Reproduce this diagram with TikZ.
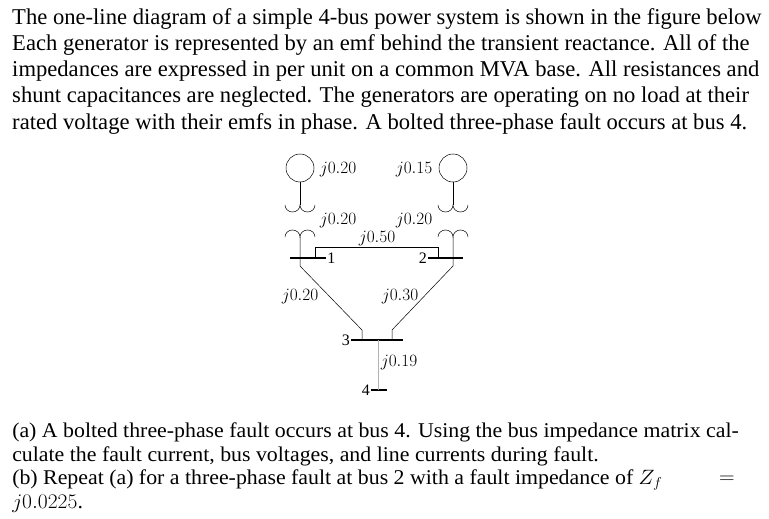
\documentclass[tikz,border=0pt]{standalone}
\usepackage{fontspec}
\setmainfont{Liberation Serif}
\usepackage{amsmath}
\begin{document}
\begin{tikzpicture}[x=1pt, y=-1pt, line width = 0.5pt,
                    txt/.style = {anchor = west, inner sep = 0pt, font = \fontsize{22.6}{24}\selectfont},
                    sub/.style = {anchor = west, inner sep = 0pt, font = \fontsize{21}{23}\selectfont, xscale = 1.04},
                    lbl/.style = {inner sep = 1pt, font = \fontsize{16}{17}\selectfont},
                    bus/.style = {line width = 2pt},
                    gen/.style = {circle, draw, minimum size = 28pt, inner sep = 0pt}]
    \useasboundingbox (0, 0) rectangle (769, 519);
    % problem text
    \node [txt] (t1) at (12, 19) {The one-line diagram of a simple 4-bus power system is shown in the figure below};
    \node [txt] (t2) at (12, 45) {Each generator is represented by an emf behind the transient reactance. All of the};
    \node [txt] (t3) at (12, 71) {impedances are expressed in per unit on a common MVA base. All resistances and};
    \node [txt] (t4) at (12, 97) {shunt capacitances are neglected. The generators are operating on no load at their};
    \node [txt] (t5) at (12, 124) {rated voltage with their emfs in phase. A bolted three-phase fault occurs at bus 4.};

    % generators
    \node [gen] (g1) at (300, 168) {};
    \node [gen] (g2) at (453, 168) {};
    \coordinate (w1) at (300, 205);
    \coordinate (w2) at (453, 205);
    \draw (g1) -- (w1);
    \draw (g2) -- (w2);
    % transformers
    \foreach \xc in {300, 453} {
        \draw (\xc-15, 205) arc (180:0:7.5 and 7) arc (180:0:7.5 and 7);
        \draw (\xc-15, 237) arc (180:360:7.5 and 7) arc (180:360:7.5 and 7);
    }
    \coordinate (t1b) at (300, 237);
    \coordinate (t2b) at (453, 237);
    % buses
    \coordinate (b1l) at (290, 258); \coordinate (b1r) at (326, 258);
    \coordinate (b2l) at (428, 258); \coordinate (b2r) at (463, 258);
    \coordinate (b3l) at (351, 340); \coordinate (b3r) at (403, 340);
    \coordinate (b4l) at (371, 390); \coordinate (b4r) at (387, 390);
    \draw [bus] (b1l) -- (b1r);
    \draw [bus] (b2l) -- (b2r);
    \draw [line width = 1.2pt] (b3l) -- (b3r);
    \draw [line width = 1.2pt] (b4l) -- (b4r);
    \node [lbl, anchor = west] (n1) at (b1r) {1};
    \node [lbl, anchor = east] (n2) at (b2l) {2};
    \node [lbl, anchor = east] (n3) at (b3l) {3};
    \node [lbl, anchor = east] (n4) at (b4l) {4};
    % lines
    \draw (t1b) -- (300, 266) -- (362, 330) -- (362, 340);
    \draw (t2b) -- (453, 266) -- (392, 330) -- (392, 340);
    \draw (315, 258) -- (315, 247) -- (438, 247) -- (438, 258);
    \draw [gray!60] (378, 340) -- (378, 390);
    % impedances
    \node [lbl] (z1) at (338, 170) {$j0.20$};
    \node [lbl] (z2) at (414, 170) {$j0.15$};
    \node [lbl] (z3) at (338, 221) {$j0.20$};
    \node [lbl] (z4) at (414, 221) {$j0.20$};
    \node [lbl] (z5) at (377, 239) {$j0.50$};
    \node [lbl] (z6) at (300, 297) {$j0.20$};
    \node [lbl] (z7) at (400, 297) {$j0.30$};
    \node [lbl] (z8) at (399, 363) {$j0.19$};

    % questions
    \node [sub] (q1) at (12, 432) {(a) A bolted three-phase fault occurs at bus 4. Using the bus impedance matrix cal-};
    \node [sub] (q2) at (12, 456) {culate the fault current, bus voltages, and line currents during fault.};
    \node [sub] (q3) at (12, 480) {(b) Repeat (a) for a three-phase fault at bus 2 with a fault impedance of $Z_f$};
    \node [sub, anchor = east] (eq) at (735, 480) {$=$};
    \node [sub] (q4) at (12, 504) {$j0.0225$.};
\end{tikzpicture}
\end{document}
